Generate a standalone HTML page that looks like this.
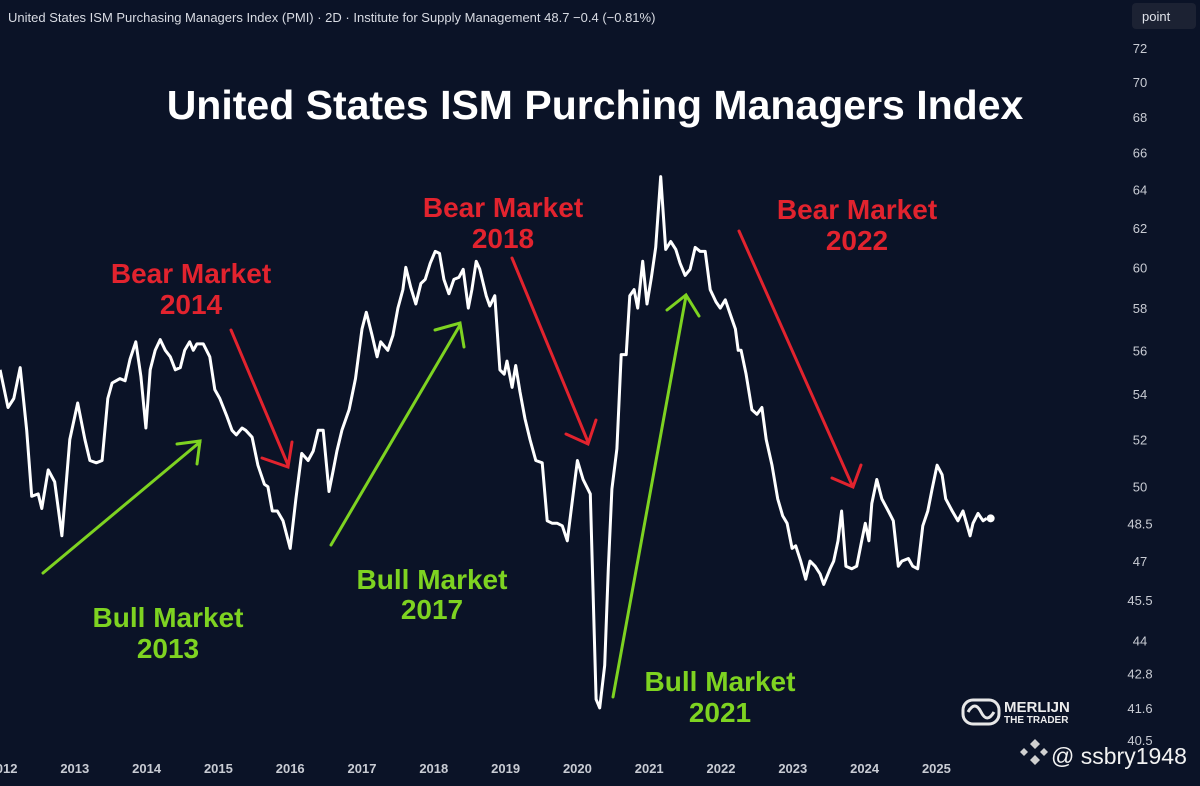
<!DOCTYPE html>
<html><head><meta charset="utf-8"><style>
html,body{margin:0;padding:0;background:#0b1327;}
body{width:1200px;height:781px;overflow:hidden;position:relative;font-family:"Liberation Sans",sans-serif;}
</style></head><body>
<svg id="chart" width="1200" height="781" viewBox="0 0 1200 781" xmlns="http://www.w3.org/2000/svg">
<rect x="0" y="0" width="1200" height="781" fill="#0b1327"/>
<text x="8" y="22" fill="#d8dbe3" font-size="13">United States ISM Purchasing Managers Index (PMI) · 2D · Institute for Supply Management  48.7  −0.4 (−0.81%)</text>
<rect x="1132" y="3" width="64" height="26" rx="4" fill="#1c2233"/>
<text x="1142" y="21" fill="#e0e3ea" font-size="13">point</text>
<text x="595" y="119" fill="#ffffff" font-size="41" font-weight="bold" text-anchor="middle">United States ISM Purching Managers Index</text>
<g id="yaxis"></g>
<g id="xaxis"></g>
<g id="annot">
 <g stroke="#e2232e" stroke-width="3" fill="none" stroke-linecap="round">
  <path d="M231 330 L288 465 M262 458 L288 467 L292 442"/>
  <path d="M512 258 L588 442 M566 434 L588 444 L596 420"/>
  <path d="M739 231 L852 485 M832 478 L853 487 L861 465"/>
 </g>
 <g stroke="#7ed321" stroke-width="3" fill="none" stroke-linecap="round">
  <path d="M43 573 L200 442 M177 444 L200 441 L197 464"/>
  <path d="M331 545 L460 325 M435 330 L460 323 L464 347"/>
  <path d="M613 697 L686 296 M667 310 L686 295 L699 316"/>
 </g>
 <g font-weight="bold" font-size="28" text-anchor="middle" fill="#e2232e">
  <text x="191" y="283">Bear Market</text>
  <text x="191" y="314">2014</text>
  <text x="503" y="217">Bear Market</text>
  <text x="503" y="248">2018</text>
  <text x="857" y="219">Bear Market</text>
  <text x="857" y="250">2022</text>
 </g>
 <g font-weight="bold" font-size="28" text-anchor="middle" fill="#7ed321">
  <text x="168" y="627">Bull Market</text>
  <text x="168" y="658">2013</text>
  <text x="432" y="589">Bull Market</text>
  <text x="432" y="619">2017</text>
  <text x="720" y="691">Bull Market</text>
  <text x="720" y="722">2021</text>
 </g>
</g>
<g id="series"></g>
<g>
 <rect x="963" y="700" width="36" height="24" rx="10" fill="none" stroke="#e8e8e8" stroke-width="3"/>
 <path d="M968 712 Q975 700 981 712 Q987 724 994 712" fill="none" stroke="#e8e8e8" stroke-width="3"/>
 <text x="1004" y="712" fill="#ececec" font-size="15" font-weight="bold">MERLIJN</text>
 <text x="1004" y="723" fill="#ececec" font-size="10" font-weight="bold">THE TRADER</text>
</g>
<g>
 <path d="M1030 744 l5 -5 l5 5 l-5 5z M1020 752 l4 -4 l4 4 l-4 4z M1040 752 l4 -4 l4 4 l-4 4z M1030 760 l5 -5 l5 5 l-5 5z" fill="#d0d0d0"/>
 <text x="1051" y="764" fill="#f2f2f2" font-size="23">@ ssbry1948</text>
</g>
</svg>
<script>
const dates=[2011.96,2012.07,2012.15,2012.24,2012.33,2012.40,2012.49,2012.54,2012.63,2012.72,2012.82,2012.93,2013.04,2013.14,2013.21,2013.30,2013.38,2013.46,2013.52,2013.63,2013.70,2013.77,2013.85,2013.92,2013.99,2014.05,2014.12,2014.19,2014.26,2014.33,2014.40,2014.47,2014.53,2014.60,2014.65,2014.70,2014.79,2014.88,2014.95,2015.02,2015.12,2015.19,2015.25,2015.33,2015.38,2015.47,2015.55,2015.64,2015.69,2015.75,2015.82,2015.90,2016.00,2016.08,2016.16,2016.25,2016.32,2016.39,2016.46,2016.54,2016.60,2016.65,2016.72,2016.82,2016.91,2017.00,2017.06,2017.14,2017.21,2017.26,2017.36,2017.43,2017.50,2017.57,2017.61,2017.68,2017.75,2017.82,2017.88,2017.95,2018.02,2018.08,2018.14,2018.21,2018.28,2018.35,2018.41,2018.48,2018.53,2018.59,2018.64,2018.73,2018.78,2018.85,2018.92,2018.98,2019.02,2019.09,2019.14,2019.20,2019.27,2019.34,2019.42,2019.51,2019.58,2019.65,2019.72,2019.79,2019.86,2020.00,2020.08,2020.18,2020.26,2020.31,2020.38,2020.43,2020.48,2020.55,2020.61,2020.68,2020.73,2020.79,2020.84,2020.91,2020.97,2021.03,2021.09,2021.16,2021.23,2021.30,2021.37,2021.43,2021.50,2021.57,2021.64,2021.71,2021.78,2021.85,2021.93,2021.99,2022.06,2022.13,2022.20,2022.24,2022.28,2022.35,2022.43,2022.50,2022.57,2022.63,2022.71,2022.79,2022.86,2022.92,2022.99,2023.04,2023.11,2023.18,2023.24,2023.31,2023.38,2023.43,2023.52,2023.57,2023.63,2023.68,2023.74,2023.82,2023.89,2023.96,2024.01,2024.06,2024.10,2024.17,2024.24,2024.33,2024.40,2024.47,2024.52,2024.61,2024.67,2024.74,2024.81,2024.88,2024.94,2025.01,2025.08,2025.13,2025.22,2025.30,2025.37,2025.41,2025.47,2025.51,2025.58,2025.65,2025.70];
const pmiValues=[55.1,53.4,53.8,55.2,52.4,49.6,49.7,49.1,50.7,50.2,48.0,52.0,53.6,52.0,51.1,51.0,51.1,53.8,54.5,54.7,54.6,55.6,56.4,54.8,52.5,55.1,56.0,56.5,56.0,55.7,55.1,55.2,56.0,56.4,56.0,56.3,56.3,55.7,54.2,53.8,53.0,52.4,52.2,52.5,52.4,52.1,50.9,50.1,50.0,49.0,49.0,48.6,47.5,49.5,51.4,51.1,51.5,52.4,52.4,49.8,50.7,51.5,52.4,53.3,54.7,57.0,57.8,56.7,55.7,56.4,56.0,56.7,58.0,58.9,60.0,59.0,58.2,59.2,59.4,60.2,60.8,60.7,59.4,58.7,59.4,59.5,59.9,58.0,58.9,60.3,59.9,58.6,58.1,58.6,55.1,54.9,55.5,54.3,55.3,54.1,52.9,52.0,51.1,51.0,48.6,48.5,48.5,48.4,47.8,51.1,50.3,49.7,41.9,41.6,43.1,46.7,49.9,51.6,55.8,55.8,58.6,58.9,58.0,60.3,58.2,59.5,61.0,64.7,60.9,61.3,60.9,60.2,59.6,59.9,61.0,60.8,60.8,58.9,58.3,58.0,58.4,57.7,57.0,56.0,56.0,54.9,53.3,53.1,53.4,52.0,50.9,49.5,48.8,48.5,47.5,47.6,47.0,46.3,47.0,46.8,46.5,46.1,46.7,47.0,47.8,49.0,46.8,46.7,46.8,47.8,48.5,47.8,49.3,50.3,49.5,49.0,48.6,46.8,47.0,47.1,46.8,46.7,48.4,49.0,49.9,50.9,50.5,49.5,49.0,48.6,49.0,48.6,48.0,48.5,48.9,48.6,48.7];
const yTickLabels=["72","70","68","66","64","62","60","58","56","54","52","50","48.5","47","45.5","44","42.8","41.6","40.5"];
const xTickLabels=["2012","2013","2014","2015","2016","2017","2018","2019","2020","2021","2022","2023","2024","2025"];

const NS="http://www.w3.org/2000/svg";
function xScale(yr){return 3+(yr-2012)*71.8;}
function yScale(v){return 48+(Math.log(72)-Math.log(v))*1203;}

const ya=document.getElementById('yaxis');
yTickLabels.forEach(function(l){
  const t=document.createElementNS(NS,'text');
  
  
  t.setAttribute('x',1140);t.setAttribute('y',yScale(parseFloat(l))+5);
  t.setAttribute('fill','#c9ccd4');t.setAttribute('font-size','13');t.setAttribute('text-anchor','middle');
  t.textContent=l;ya.appendChild(t);
});
const xa=document.getElementById('xaxis');
xTickLabels.forEach(function(l){
  const t=document.createElementNS(NS,'text');
  
  
  t.setAttribute('x',xScale(parseFloat(l)));t.setAttribute('y',773);
  t.setAttribute('fill','#c9ccd4');t.setAttribute('font-size','13');t.setAttribute('font-weight','bold');t.setAttribute('text-anchor','middle');
  t.textContent=l;xa.appendChild(t);
});
const sg=document.getElementById('series');
let d='';
for(let i=0;i<dates.length;i++){d+=(i?'L':'M')+xScale(dates[i]).toFixed(1)+' '+yScale(pmiValues[i]).toFixed(1);}
const p=document.createElementNS(NS,'path');


p.setAttribute('d',d);p.setAttribute('fill','none');p.setAttribute('stroke','#ffffff');p.setAttribute('stroke-width','3');p.setAttribute('stroke-linejoin','round');
sg.appendChild(p);
const last=dates.length-1;
const c=document.createElementNS(NS,'circle');


c.setAttribute('cx',xScale(dates[last])+4);c.setAttribute('cy',yScale(pmiValues[last]));c.setAttribute('r','4');c.setAttribute('fill','#ffffff');
sg.appendChild(c);
</script>
</body></html>
